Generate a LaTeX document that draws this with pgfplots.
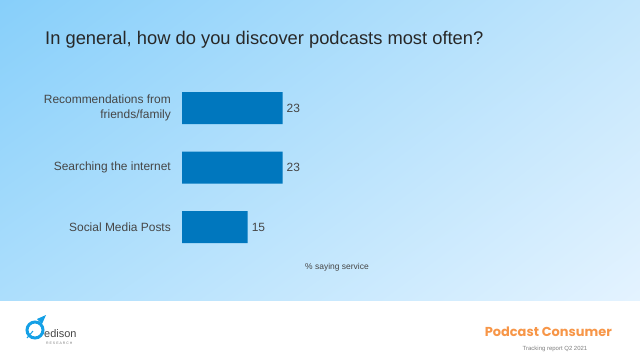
\documentclass[border=0pt]{standalone}
\usepackage{pgfplots}
\pgfplotsset{compat=1.18}
\usetikzlibrary{shadings}
\usepackage{fontspec}
\setmainfont{Liberation Sans}
\newfontfamily\popfont{Poppins}
\definecolor{barblue}{RGB}{0,119,190}
\definecolor{labgray}{RGB}{70,70,70}
\definecolor{titlegray}{RGB}{40,40,40}
\definecolor{bgTL}{RGB}{135,207,250}
\definecolor{bgTR}{RGB}{195,230,252}
\definecolor{bgBL}{RGB}{172,222,252}
\definecolor{bgBR}{RGB}{228,243,255}
\definecolor{podorange}{RGB}{247,150,72}
\definecolor{logoblue}{RGB}{20,160,230}
\begin{document}
\begin{tikzpicture}[x=1bp,y=1bp]
\useasboundingbox (0,0) rectangle (640,360);
\fill[white] (0,0) rectangle (640,360);
\shade[upper left=bgTL, upper right=bgTR, lower left=bgBL, lower right=bgBR] (0,60) rectangle (640,360);
\node[anchor=base west, inner sep=0, text=titlegray, font=\fontsize{18.4}{20}\selectfont] at (45,316) {In general, how do you discover podcasts most often?};
\begin{axis}[
  at={(182bp,281.75bp)}, anchor=north west,
  scale only axis, width=174.8bp, height=178.5bp,
  xbar, bar width=32bp,
  xmin=0, xmax=40, ymin=-0.5, ymax=2.5, y dir=reverse,
  ytick={0,1,2},
  yticklabels={{Recommendations from\\friends/family},{Searching the internet},{Social Media Posts}},
  yticklabel style={align=right, inner sep=0pt, xshift=-11bp, text=labgray, font=\fontsize{12}{15}\selectfont},
  xtick=\empty, major tick length=0pt,
  axis line style={draw=none},
  /pgf/number format/assume math mode=true,
  nodes near coords,
  every node near coord/.append style={anchor=west, inner sep=0pt, xshift=4bp, text=labgray, font=\fontsize{12}{14}\selectfont},
]
\addplot[fill=barblue, draw=none] coordinates {(23,0) (23,1) (15,2)};
\end{axis}
\node[text=labgray, inner sep=0, font=\fontsize{8.5}{10}\selectfont] at (337,93) {\% saying service};
% footer logo
\draw[logoblue, line width=3bp] (35,30) circle[radius=8];
\fill[logoblue] (37,41) -- (46,45) -- (42,36) -- cycle;
\draw[logoblue, line width=1bp] (27,22) -- (33,29);
\node[anchor=base west, inner sep=0, text=labgray, font=\fontsize{11}{12}\selectfont] at (44,23) {edison};
\node[anchor=base west, inner sep=0, text=labgray!70, font=\fontsize{3.5}{4}\selectfont] at (46,16) {R E S E A R C H};
\node[anchor=base east, inner sep=0, text=podorange, font=\popfont\bfseries\fontsize{13}{15}\selectfont] at (612,24) {Podcast Consumer};
\node[anchor=base, inner sep=0, text=gray, font=\fontsize{6}{7}\selectfont] at (555,10) {Tracking report Q2 2021};
\end{tikzpicture}
\end{document}
